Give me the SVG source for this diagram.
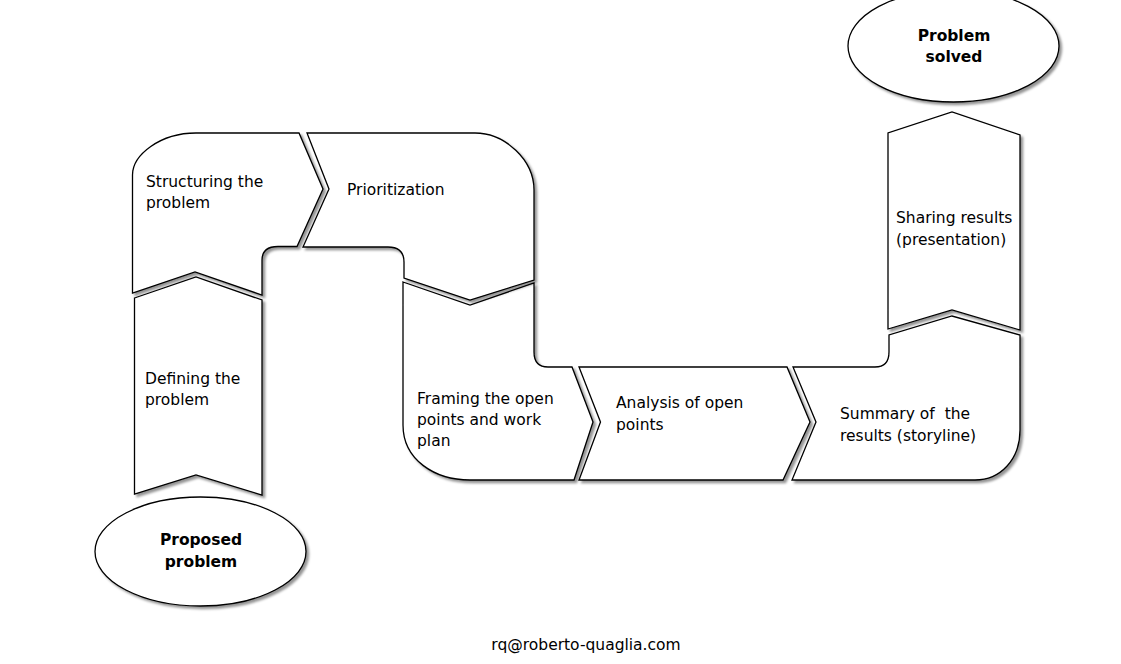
<svg xmlns="http://www.w3.org/2000/svg" width="1121" height="664" viewBox="0 0 1121 664">
<style>
.s{fill:#fff;stroke:#000;stroke-width:1.3;stroke-linejoin:miter;filter:url(#sh)}
text{font-family:"DejaVu Sans",Verdana,sans-serif;font-size:15.5px;fill:#000;white-space:pre}
.b{font-weight:700;text-anchor:middle;font-size:15.5px}
</style>
<defs>
<filter id="sh" x="-10%" y="-10%" width="125%" height="125%">
<feDropShadow dx="2.5" dy="2.5" stdDeviation="1.2" flood-color="#000" flood-opacity="0.42"/>
</filter>
</defs>
<rect width="1121" height="664" fill="#fff"/>
<g id="connectors"/>
<g id="problem-solved">
<ellipse class="s" cx="953.500" cy="46" rx="105.500" ry="56"/>
<text class="b" x="954" y="41">Problem</text>
<text class="b" x="954" y="62">solved</text>
</g>
<g id="sharing-results">
<path class="s" d="M888 329L952 310L1020 330V135L952 112L888 133Z"/>
<text x="896" y="223">Sharing results</text>
<text x="896" y="245">(presentation)</text>
</g>
<g id="summary">
<path class="s" d="M793 367H875Q889 367 889 352V335L952 316L1020 335V430C1020 460 1000 480 975 480H792L816 422Z"/>
<text x="840" y="419">Summary of  the</text>
<text x="840" y="441">results (storyline)</text>
</g>
<g id="analysis">
<path class="s" d="M579 367H787L810 422L783 480H579L600.500 422Z"/>
<text x="616" y="408">Analysis of open</text>
<text x="616" y="430">points</text>
</g>
<g id="framing">
<path class="s" d="M403 282L470 305L534 283V352Q534 367 548 367H572L593 422L574 480H470C435 480 403 460 403 425Z"/>
<text x="417" y="404">Framing the open</text>
<text x="417" y="425">points and work</text>
<text x="417" y="446">plan</text>
</g>
<g id="prioritization">
<path class="s" d="M307 133H475C505 133 534 160 534 190V280L470 300L404 278V262Q404 247 388 247H303L329 189Z"/>
<text x="347" y="195">Prioritization</text>
</g>
<g id="structuring">
<path class="s" d="M132.500 293V175C132.500 155 160 133 196 133H299L323 189L297 246.500H278Q262 246.500 262 260V295L195 272Z"/>
<text x="146" y="187">Structuring the</text>
<text x="146" y="208">problem</text>
</g>
<g id="defining">
<path class="s" d="M134.500 298L196 277L262 300V495L196 475L134.500 494Z"/>
<text x="145" y="384">Defining the</text>
<text x="145" y="405">problem</text>
</g>
<g id="proposed-problem">
<ellipse class="s" cx="200.500" cy="551.500" rx="105.500" ry="54.500"/>
<text class="b" x="201" y="545">Proposed</text>
<text class="b" x="201" y="567">problem</text>
</g>
<text x="586" y="650" text-anchor="middle">rq@roberto-quaglia.com</text>
</svg>
